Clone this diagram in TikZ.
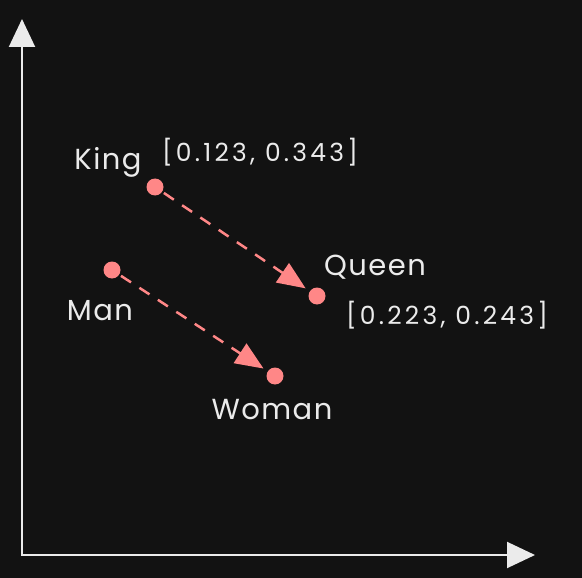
\documentclass[tikz,border=0pt]{standalone}
\usepackage{fontspec}
\setmainfont{Poppins}
\usetikzlibrary{arrows.meta}
\definecolor{bg}{HTML}{121212}
\definecolor{chalk}{HTML}{EBEBEB}
\definecolor{salmon}{HTML}{FF8787}
\tikzset{
  dot/.style={circle, fill=salmon, inner sep=0pt, minimum size=17pt},
  word/.style={text=chalk, font=\fontsize{29}{34}\selectfont\addfontfeature{LetterSpace=5}},
  vec/.style={text=chalk, font=\fontsize{25}{29}\selectfont\addfontfeature{LetterSpace=13}},
  offsetarrow/.style={draw=salmon, line width=2.5pt, dash pattern=on 12pt off 10pt,
    -{Triangle[length=28pt, width=23pt, fill=salmon]}, shorten >=5pt, shorten <=2pt}
}
\begin{document}
\begin{tikzpicture}[x=1pt, y=-1pt]
  \fill[bg] (0,0) rectangle (582,578);
  \useasboundingbox (0,0) rectangle (582,578);
  % axes
  \coordinate (origin) at (22,555);
  \coordinate (ytop) at (22,19);
  \coordinate (xend) at (535,555);
  \draw[chalk, line width=2pt, {Triangle[length=28pt, width=26pt]}-{Triangle[length=28pt, width=26pt]}] (ytop) -- (origin) -- (xend);
  % word vectors
  \node[dot] (king) at (155,187) {};
  \node[dot] (queen) at (317,296) {};
  \node[dot] (man) at (112,270) {};
  \node[dot] (woman) at (275,376) {};
  \node[word] (kinglabel) at (108,162) {King};
  \node[word] (queenlabel) at (375,267) {Queen};
  \node[word] (manlabel) at (100,311) {Man};
  \node[word] (womanlabel) at (272,410) {Woman};
  \node[vec] (kingvec) at (260,152) {[0.123, 0.343]};
  \node[vec] (queenvec) at (447,315) {[0.223, 0.243]};
  \draw[offsetarrow] (king) -- (queen);
  \draw[offsetarrow] (man) -- (woman);
\end{tikzpicture}
\end{document}
